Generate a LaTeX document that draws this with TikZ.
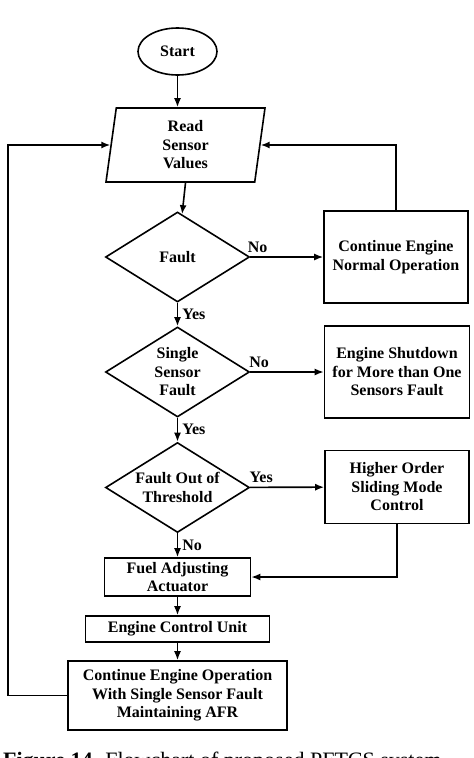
\documentclass[tikz,border=0pt]{standalone}
\usepackage{fontspec}
\setmainfont{Liberation Serif}
\usetikzlibrary{shapes.geometric,arrows.meta}
\begin{document}
\begin{tikzpicture}[x=1pt, y=-1pt, line width=1.6pt, >={Latex[length=9pt,width=7pt]},
    every node/.style={font=\bfseries\fontsize{16}{18.5}\selectfont, align=center},
    box/.style={draw, rectangle, inner sep=2pt},
    cond/.style={draw, diamond, aspect=1.6, inner sep=0pt, minimum width=144pt, minimum height=90pt},
    lbl/.style={draw=none, inner sep=4pt}]
            \useasboundingbox (0,0) rectangle (474,758);
            % Start and input
            \node[draw, ellipse, minimum width=79pt, minimum height=47pt, inner sep=0pt] (start) at (177.5,51.5) {Start};
            \node[draw, trapezium, trapezium left angle=78, trapezium right angle=102, trapezium stretches body,
                  minimum width=159pt, minimum height=74pt, inner sep=0pt] (read) at (185.5,145) {Read\\Sensor\\Values};
            % Decisions
            \node[cond] (fault) at (177.5,257) {Fault};
            \node[cond] (single) at (177.5,372) {Single\\Sensor\\Fault};
            \node[cond] (thr) at (177.5,487.5) {Fault Out of\\Threshold};
            % Boxes
            \node[box, minimum width=144pt, minimum height=92pt] (normal) at (396,257) {Continue Engine\\Normal Operation};
            \node[box, minimum width=145pt, minimum height=92pt] (shut) at (397,372) {Engine Shutdown\\for More than One\\Sensors Fault};
            \node[box, minimum width=144pt, minimum height=73pt] (hosmc) at (397,487) {Higher Order\\Sliding Mode\\Control};
            \node[box, minimum width=146pt, minimum height=38pt, inner sep=1pt] (fuel) at (177.5,577) {Fuel Adjusting\\Actuator};
            \node[box, minimum width=184pt, minimum height=26pt] (ecu) at (177.5,629) {Engine Control Unit};
            \node[box, minimum width=219pt, minimum height=69pt] (cont) at (177.5,695.5) {Continue Engine Operation\\With Single Sensor Fault\\Maintaining AFR};
            \coordinate (back) at (8,695.5);
            % Main flow
            \draw[->] (start) -- (start |- read.north);
            \draw[->] (read.south) -- (fault);
            \draw[->] (fault) -- node[lbl, pos=0.1, above] {No} (normal);
            \draw[->] (fault) -- node[lbl, right] {Yes} (single);
            \draw[->] (single) -- node[lbl, pos=0.12, above] {No} (shut);
            \draw[->] (single) -- node[lbl, right] {Yes} (thr);
            \draw[->] (thr) -- node[lbl, pos=0.15, above] {Yes} (hosmc);
            \draw[->] (thr) -- node[lbl, right] {No} (fuel);
            \draw[->] (fuel) -- (ecu);
            \draw[->] (ecu) -- (cont);
            % Feedback lines
            \draw[->] (normal.north) |- (read.east);
            \draw[->] (hosmc.south) |- (fuel.east);
            \draw[->] (cont.west) -- (back) |- (read.west);
            % Caption
            \node[anchor=base west, font=\fontsize{22}{26}\selectfont] (cap) at (-1,767) {\textbf{Figure 14.} Flowchart of proposed PFTCS system};
          \end{tikzpicture}
\end{document}
